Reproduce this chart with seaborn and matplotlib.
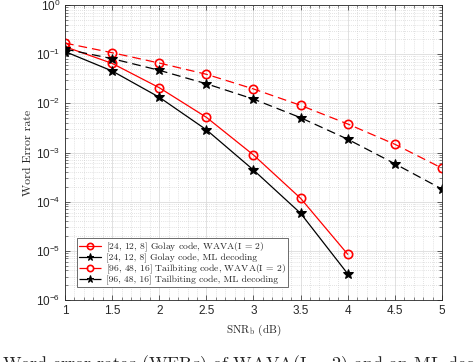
import numpy as np
import pandas as pd
import matplotlib
matplotlib.use("Agg")
import matplotlib.pyplot as plt
import seaborn as sns
from matplotlib.font_manager import FontProperties
from matplotlib.ticker import LogLocator, MultipleLocator, NullFormatter, FuncFormatter

snr_golay = [1.0, 1.5, 2.0, 2.5, 3.0, 3.5, 4.0]
snr_tb = [1.0, 1.5, 2.0, 2.5, 3.0, 3.5, 4.0, 4.5, 5.0]

golay_wava = [0.142, 0.065, 0.0208, 0.0052, 8.9e-4, 1.17e-4, 8.5e-6]
golay_ml = [0.113, 0.0455, 0.0133, 0.0029, 4.4e-4, 5.8e-5, 3.4e-6]
tb_wava = [0.168, 0.107, 0.066, 0.039, 0.0196, 0.0091, 0.0038, 1.47e-3, 4.8e-4]
tb_ml = [0.127, 0.081, 0.047, 0.025, 0.0122, 0.0051, 1.86e-3, 5.9e-4, 1.8e-4]

labels = [
    "[24, 12, 8] Golay code, WAVA($I$ = 2)",
    "[24, 12, 8] Golay code, ML decoding",
    "[96, 48, 16] Tailbiting code, WAVA($I$ = 2)",
    "[96, 48, 16] Tailbiting code, ML decoding",
]

sns.set_theme(style="ticks")
plt.rcParams["font.family"] = ["Liberation Sans", "DejaVu Sans"]
plt.rcParams["mathtext.fontset"] = "custom"
plt.rcParams["mathtext.rm"] = "Liberation Sans"
plt.rcParams["mathtext.it"] = "Liberation Sans:italic"
plt.rcParams["mathtext.default"] = "regular"
plt.rcParams["xtick.direction"] = "in"
plt.rcParams["ytick.direction"] = "in"


def serif(size):
    return FontProperties(family="cmr10", size=size, math_fontfamily="cm")


fig = plt.figure(figsize=(4.74, 3.62), dpi=100)
ax = fig.add_axes([65 / 474, 1 - 300 / 362, 377 / 474, 295 / 362])

series = [
    (snr_golay, golay_wava, "red", "o", "-", labels[0]),
    (snr_golay, golay_ml, "black", "*", "-", labels[1]),
    (snr_tb, tb_wava, "red", "o", (0, (7, 4)), labels[2]),
    (snr_tb, tb_ml, "black", "*", (0, (7, 4)), labels[3]),
]

for x, y, c, m, ls, lab in series:
    df = pd.DataFrame({"snr": x, "wer": y})
    if m == "o":
        kw = dict(markersize=6, markerfacecolor="none", markeredgecolor=c, markeredgewidth=1.2)
    else:
        kw = dict(markersize=7, markerfacecolor=c, markeredgecolor=c)
    sns.lineplot(data=df, x="snr", y="wer", ax=ax, color=c, marker=m,
                 linestyle=ls, linewidth=0.9, label=lab, **kw)

ax.set_yscale("log")
ax.set_xlim(1, 5)
ax.set_ylim(1e-6, 1)
ax.xaxis.set_major_locator(MultipleLocator(0.5))
ax.xaxis.set_minor_locator(MultipleLocator(0.1))
ax.yaxis.set_major_locator(LogLocator(base=10, numticks=10))
ax.yaxis.set_minor_locator(LogLocator(base=10, subs=np.arange(2, 10), numticks=20))
ax.yaxis.set_minor_formatter(NullFormatter())
ax.xaxis.set_major_formatter(FuncFormatter(lambda v, p: f"{v:g}"))
ax.yaxis.set_major_formatter(FuncFormatter(lambda v, p: r"$10^{%d}$" % round(np.log10(v))))

ax.grid(which="major", color="#dcdcdc", linewidth=0.6, linestyle="-")
ax.grid(which="minor", color="#c8c8c8", linewidth=0.5, linestyle=(0, (1, 2)))
ax.tick_params(which="both", top=True, right=True, labelsize=8.5, colors="#262626")
ax.tick_params(which="major", length=3.5, width=0.5)
ax.tick_params(which="minor", length=2, width=0.4)
for s in ax.spines.values():
    s.set_linewidth(0.6)
    s.set_color("#262626")

ax.set_xlabel(r"SNR$_\mathrm{b}$ (dB)", fontproperties=serif(8), labelpad=4)
ax.set_ylabel("Word Error rate", fontproperties=serif(8.5), labelpad=2)

leg = ax.legend(loc="lower left", bbox_to_anchor=(0.02, 0.028),
                frameon=True, fancybox=False, framealpha=1, edgecolor="#555555",
                borderpad=0.2, labelspacing=-0.02, handlelength=2.3, handletextpad=0.5,
                handleheight=0.5, markerscale=0.75, prop=serif(6.9))
leg.get_frame().set_linewidth(0.6)

fig.text(0.005, 1 - 353 / 362, "Word error rates (WERs) of WAVA($I$ = 2) and an ML decoding",
         fontproperties=serif(13), va="top", ha="left")

fig.savefig("out.png", dpi=100)
